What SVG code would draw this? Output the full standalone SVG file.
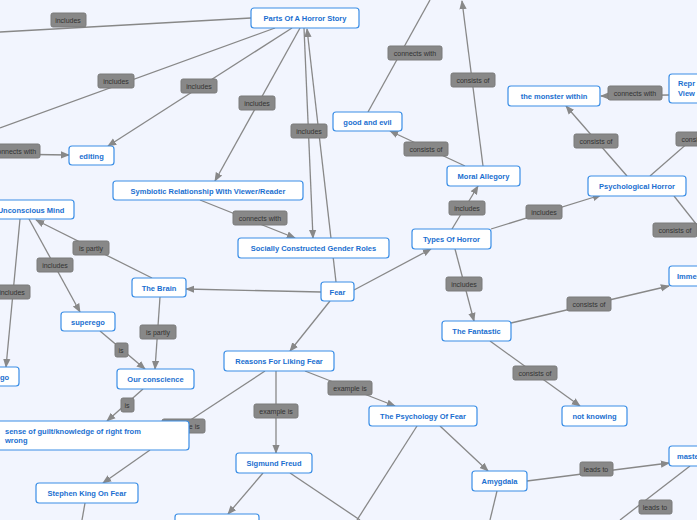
<svg xmlns="http://www.w3.org/2000/svg" width="697" height="520" viewBox="0 0 697 520">
<defs>
<marker id="a" viewBox="0 0 10 10" refX="9" refY="5" markerWidth="7" markerHeight="7" orient="auto"><path d="M0,1 L10,5 L0,9 z" fill="#888"/></marker>
<style>
.n rect{fill:#fff;stroke:#3a8ee6;stroke-width:1.2}
.n text{font-family:"Liberation Sans",Arial,sans-serif;font-size:7.5px;font-weight:bold;fill:#1a6fd0;text-anchor:middle}
#c line{stroke:#888;stroke-width:1.3}
#c .m{marker-end:url(#a)}
.l rect{fill:#888;stroke:#7a7a7a}
.l text{font-family:"Liberation Sans",Arial,sans-serif;font-size:7px;fill:#333;text-anchor:middle}
</style>
</defs>
<rect width="697" height="520" fill="#f2f5fe"/>
<g id="c">
<line x1="251" y1="18" x2="0" y2="32"/>
<line x1="275" y1="28" x2="0" y2="128"/>
<line class="m" x1="292" y1="28" x2="108" y2="146"/>
<line class="m" x1="300" y1="28" x2="215" y2="181"/>
<line class="m" x1="336" y1="282" x2="307" y2="29"/>
<line class="m" x1="304" y1="28" x2="313" y2="238"/>
<line class="m" x1="0" y1="154" x2="69" y2="155"/>
<line class="m" x1="200" y1="200" x2="295" y2="238"/>
<line x1="368" y1="112" x2="430" y2="0"/>
<line class="m" x1="483" y1="166" x2="462" y2="1"/>
<line class="m" x1="465" y1="166" x2="390" y2="131"/>
<line class="m" x1="452" y1="229" x2="478" y2="186"/>
<line class="m" x1="491" y1="229" x2="601" y2="195"/>
<line class="m" x1="627" y1="176" x2="566" y2="106"/>
<line class="m" x1="669" y1="95" x2="601" y2="96"/>
<line x1="650" y1="176" x2="697" y2="135"/>
<line x1="674" y1="196" x2="697" y2="225"/>
<line class="m" x1="511" y1="323" x2="669" y2="286"/>
<line class="m" x1="455" y1="249" x2="474" y2="321"/>
<line class="m" x1="490" y1="341" x2="580" y2="406"/>
<line class="m" x1="354" y1="290" x2="431" y2="249"/>
<line class="m" x1="321" y1="292" x2="186" y2="289"/>
<line class="m" x1="330" y1="301" x2="290" y2="351"/>
<line class="m" x1="152" y1="278" x2="36" y2="220"/>
<line class="m" x1="160" y1="297" x2="155" y2="369"/>
<line class="m" x1="29" y1="219" x2="80" y2="312"/>
<line class="m" x1="20" y1="219" x2="6" y2="367"/>
<line class="m" x1="100" y1="331" x2="145" y2="369"/>
<line class="m" x1="143" y1="389" x2="107" y2="421"/>
<line x1="265" y1="371" x2="160" y2="440"/>
<line class="m" x1="276" y1="371" x2="276" y2="453"/>
<line class="m" x1="305" y1="371" x2="395" y2="406"/>
<line class="m" x1="150" y1="450" x2="103" y2="483"/>
<line x1="85" y1="503" x2="82" y2="520"/>
<line class="m" x1="263" y1="473" x2="228" y2="514"/>
<line x1="290" y1="473" x2="360" y2="520"/>
<line x1="417" y1="426" x2="357" y2="520"/>
<line class="m" x1="440" y1="426" x2="488" y2="471"/>
<line class="m" x1="527" y1="481" x2="669" y2="463"/>
<line x1="497" y1="491" x2="490" y2="520"/>
<line x1="690" y1="466" x2="620" y2="520"/>
</g>
<g class="l">
<rect x="51" y="13" width="35" height="14" rx="2"/><text x="68" y="23">includes</text>
<rect x="98" y="74" width="36" height="14" rx="2"/><text x="116" y="84">includes</text>
<rect x="181" y="79" width="36" height="14" rx="2"/><text x="199" y="89">includes</text>
<rect x="239" y="96" width="36" height="14" rx="2"/><text x="257" y="106">includes</text>
<rect x="291" y="124" width="36" height="14" rx="2"/><text x="309" y="134">includes</text>
<rect x="-10" y="144" width="50" height="14" rx="2"/><text x="15" y="154">connects with</text>
<rect x="233" y="211" width="54" height="14" rx="2"/><text x="260" y="221">connects with</text>
<rect x="388" y="46" width="54" height="14" rx="2"/><text x="415" y="56">connects with</text>
<rect x="451" y="73" width="44" height="14" rx="2"/><text x="473" y="83">consists of</text>
<rect x="404" y="142" width="44" height="14" rx="2"/><text x="426" y="152">consists of</text>
<rect x="449" y="201" width="36" height="14" rx="2"/><text x="467" y="211">includes</text>
<rect x="526" y="205" width="36" height="14" rx="2"/><text x="544" y="215">includes</text>
<rect x="574" y="134" width="44" height="14" rx="2"/><text x="596" y="144">consists of</text>
<rect x="608" y="86" width="54" height="14" rx="2"/><text x="635" y="96">connects with</text>
<rect x="676" y="132" width="44" height="14" rx="2"/><text x="698" y="142">consists of</text>
<rect x="653" y="223" width="44" height="14" rx="2"/><text x="675" y="233">consists of</text>
<rect x="567" y="297" width="44" height="14" rx="2"/><text x="589" y="307">consists of</text>
<rect x="446" y="277" width="36" height="14" rx="2"/><text x="464" y="287">includes</text>
<rect x="513" y="366" width="44" height="14" rx="2"/><text x="535" y="376">consists of</text>
<rect x="73" y="241" width="36" height="14" rx="2"/><text x="91" y="251">is partly</text>
<rect x="140" y="325" width="36" height="14" rx="2"/><text x="158" y="335">is partly</text>
<rect x="37" y="258" width="36" height="14" rx="2"/><text x="55" y="268">includes</text>
<rect x="-6" y="285" width="36" height="14" rx="2"/><text x="12" y="295">includes</text>
<rect x="115" y="343" width="13" height="14" rx="2"/><text x="121" y="353">is</text>
<rect x="121" y="398" width="13" height="14" rx="2"/><text x="127" y="408">is</text>
<rect x="162" y="419" width="43" height="14" rx="2"/><text x="183" y="429">example is</text>
<rect x="254" y="404" width="44" height="14" rx="2"/><text x="276" y="414">example is</text>
<rect x="328" y="381" width="44" height="14" rx="2"/><text x="350" y="391">example is</text>
<rect x="580" y="462" width="33" height="14" rx="2"/><text x="596" y="472">leads to</text>
<rect x="639" y="500" width="33" height="14" rx="2"/><text x="655" y="510">leads to</text>
</g>
<g id="n1" class="n"><rect x="251" y="8" width="108" height="20" rx="3"/><text x="305" y="21">Parts Of A Horror Story</text></g>
<g id="n2" class="n"><rect x="69" y="146" width="45" height="19" rx="3"/><text x="91.5" y="158.5">editing</text></g>
<g id="n3" class="n"><rect x="333" y="112" width="69" height="19" rx="3"/><text x="367.5" y="124.5">good and evil</text></g>
<g id="n4" class="n"><rect x="447" y="166" width="73" height="20" rx="3"/><text x="483.5" y="179">Moral Allegory</text></g>
<g id="n5" class="n"><rect x="508" y="86" width="92" height="20" rx="3"/><text x="554" y="99">the monster within</text></g>
<g id="n6" class="n"><rect x="669" y="74" width="45" height="29" rx="3"/><text x="678" y="86" text-anchor="start" style="text-anchor:start">Repr</text><text x="678" y="96" style="text-anchor:start">View</text></g>
<g id="n7" class="n"><rect x="588" y="176" width="98" height="20" rx="3"/><text x="637" y="189">Psychological Horror</text></g>
<g id="n8" class="n"><rect x="113" y="181" width="190" height="19" rx="3"/><text x="208" y="193.5">Symbiotic Relationship With Viewer/Reader</text></g>
<g id="n9" class="n"><rect x="-12" y="200" width="86" height="19" rx="3"/><text x="31" y="212.5">Unconscious Mind</text></g>
<g id="n10" class="n"><rect x="412" y="229" width="79" height="20" rx="3"/><text x="451.5" y="242">Types Of Horror</text></g>
<g id="n11" class="n"><rect x="238" y="238" width="151" height="20" rx="3"/><text x="313.5" y="251">Socially Constructed Gender Roles</text></g>
<g id="n12" class="n"><rect x="669" y="266" width="45" height="20" rx="3"/><text x="677" y="279" style="text-anchor:start">Immersion</text></g>
<g id="n13" class="n"><rect x="132" y="278" width="54" height="19" rx="3"/><text x="159" y="290.5">The Brain</text></g>
<g id="n14" class="n"><rect x="321" y="282" width="33" height="19" rx="3"/><text x="337.5" y="294.5">Fear</text></g>
<g id="n15" class="n"><rect x="61" y="312" width="54" height="19" rx="3"/><text x="88" y="324.5">superego</text></g>
<g id="n16" class="n"><rect x="442" y="321" width="69" height="20" rx="3"/><text x="476.5" y="334">The Fantastic</text></g>
<g id="n17" class="n"><rect x="-14" y="367" width="33" height="19" rx="3"/><text x="2.5" y="379.5">ego</text></g>
<g id="n18" class="n"><rect x="224" y="351" width="110" height="20" rx="3"/><text x="279" y="364">Reasons For Liking Fear</text></g>
<g id="n19" class="n"><rect x="117" y="369" width="77" height="20" rx="3"/><text x="155.5" y="382">Our conscience</text></g>
<g id="n20" class="n"><rect x="369" y="406" width="108" height="20" rx="3"/><text x="423" y="419">The Psychology Of Fear</text></g>
<g id="n21" class="n"><rect x="562" y="406" width="65" height="20" rx="3"/><text x="594.5" y="419">not knowing</text></g>
<g id="n22" class="n"><rect x="-5" y="421" width="194" height="29" rx="3"/><text x="5" y="434" style="text-anchor:start">sense of guilt/knowledge of right from</text><text x="5" y="443" style="text-anchor:start">wrong</text></g>
<g id="n23" class="n"><rect x="236" y="453" width="76" height="20" rx="3"/><text x="274" y="466">Sigmund Freud</text></g>
<g id="n24" class="n"><rect x="472" y="471" width="55" height="20" rx="3"/><text x="499.5" y="484">Amygdala</text></g>
<g id="n25" class="n"><rect x="669" y="446" width="45" height="20" rx="3"/><text x="677" y="459" style="text-anchor:start">mastery</text></g>
<g id="n26" class="n"><rect x="36" y="483" width="102" height="20" rx="3"/><text x="87" y="496">Stephen King On Fear</text></g>
<g id="n27" class="n"><rect x="175" y="514" width="84" height="20" rx="3"/></g>
</svg>
